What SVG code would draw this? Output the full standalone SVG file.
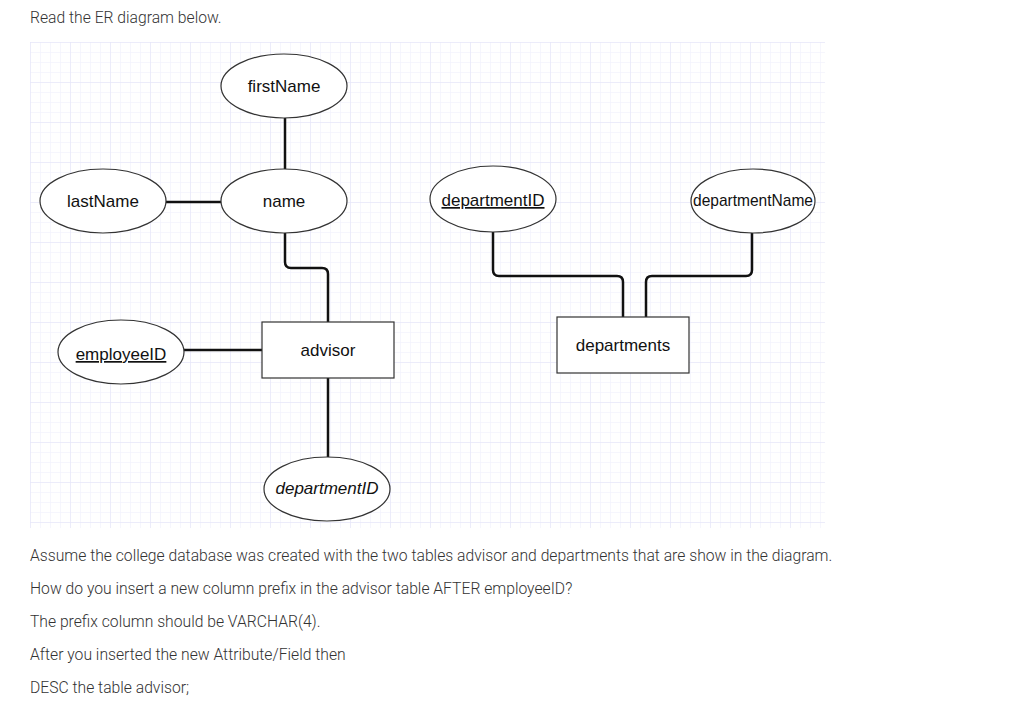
<svg xmlns="http://www.w3.org/2000/svg" width="1011" height="701" viewBox="0 0 1011 701">
<style>
.t{font-family:Roboto,"Liberation Sans",sans-serif;font-size:15.7px;font-weight:300;fill:#333}
.n{font-family:"Liberation Sans",Arial,sans-serif;font-size:17px;fill:#111;text-anchor:middle}
.s{fill:#fff;stroke:#333;stroke-width:1.2}
.c{fill:none;stroke:#111;stroke-width:2.5}
</style>
<defs>
<pattern id="g" width="10" height="10" patternUnits="userSpaceOnUse" x="30" y="42"><path d="M10 0H0V10" fill="none" stroke="#eeeefc" stroke-width="1"/></pattern>
<pattern id="G" width="40" height="40" patternUnits="userSpaceOnUse" x="30" y="42"><path d="M40 0H0V40" fill="none" stroke="#e2e2f8" stroke-width="1"/></pattern>
</defs>
<rect width="1011" height="701" fill="#fff"/>
<rect x="30" y="42" width="795" height="486" fill="url(#g)"/>
<rect x="30" y="42" width="795" height="486" fill="url(#G)"/>
<text class="t" x="30" y="23">Read the ER diagram below.</text>
<g id="connectors">
<path class="c" d="M285 118V169"/>
<path class="c" d="M166 202H221"/>
<path class="c" d="M285 233V262Q285 268 291 268H322Q328 268 328 274V322"/>
<path class="c" d="M184 350H262"/>
<path class="c" d="M328 378V457"/>
<path class="c" d="M493 232V270Q493 276 499 276H617Q623 276 623 282V317"/>
<path class="c" d="M752 233V270Q752 276 746 276H652Q646 276 646 282V317"/>
</g>
<g id="firstName"><ellipse class="s" cx="284" cy="86" rx="63" ry="32"/><text class="n" x="284" y="92">firstName</text></g>
<g id="name"><ellipse class="s" cx="284" cy="201" rx="63" ry="32"/><text class="n" x="284" y="207">name</text></g>
<g id="lastName"><ellipse class="s" cx="103" cy="201" rx="63" ry="32"/><text class="n" x="103" y="207">lastName</text></g>
<g id="employeeID"><ellipse class="s" cx="121" cy="352" rx="63" ry="32"/><text class="n" x="121" y="360" text-decoration="underline">employeeID</text></g>
<g id="advisor"><rect class="s" x="262" y="322" width="132" height="56"/><text class="n" x="328" y="356">advisor</text></g>
<g id="departmentID2"><ellipse class="s" cx="327" cy="489" rx="63" ry="32"/><text class="n" x="327" y="494" font-style="italic">departmentID</text></g>
<g id="departmentID"><ellipse class="s" cx="493" cy="199" rx="63" ry="33"/><text class="n" x="493" y="206" text-decoration="underline">departmentID</text></g>
<g id="departmentName"><ellipse class="s" cx="753" cy="201" rx="62" ry="32"/><text class="n" x="753" y="206" font-size="14" textLength="120" lengthAdjust="spacingAndGlyphs">departmentName</text></g>
<g id="departments"><rect class="s" x="557" y="317" width="132" height="56"/><text class="n" x="623" y="351">departments</text></g>
<text class="t" x="30" y="561">Assume the college database was created with the two tables advisor and departments that are show in the diagram.</text>
<text class="t" x="30" y="594">How do you insert a new column prefix in the advisor table AFTER employeeID?</text>
<text class="t" x="30" y="627">The prefix column should be VARCHAR(4).</text>
<text class="t" x="30" y="660">After you inserted the new Attribute/Field then</text>
<text class="t" x="30" y="693">DESC the table advisor;</text>
</svg>
